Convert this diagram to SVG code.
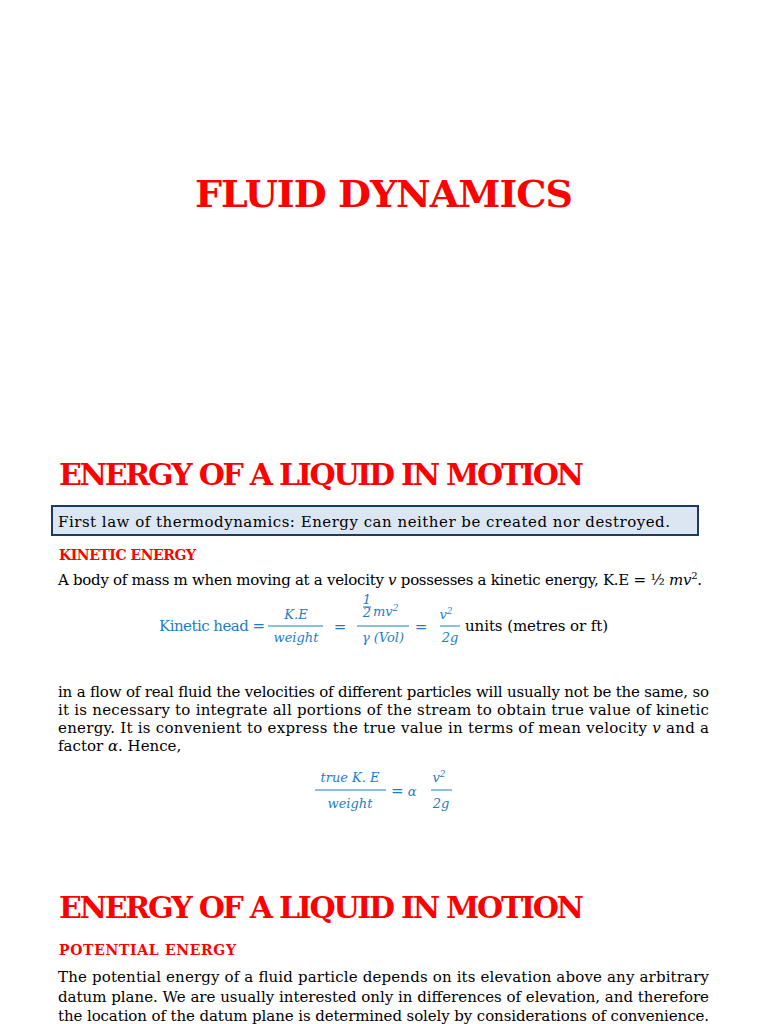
<svg xmlns="http://www.w3.org/2000/svg" width="768" height="1024" viewBox="0 0 768 1024">
<style>
.h{font-family:"DejaVu Serif",serif;font-weight:bold;fill:#FF0000;}
.b{font-family:"DejaVu Serif",serif;font-size:15px;fill:#000;}
.m{font-family:"DejaVu Serif",serif;font-style:italic;fill:#1F7BC8;font-size:13px;}
.mb{font-family:"DejaVu Serif",serif;fill:#1F7BC8;font-size:15px;}
.ln{stroke:#1F7BC8;stroke-width:1;}
</style>
<rect width="768" height="1024" fill="#fff"/>
<text class="h" x="384" y="207" font-size="38" text-anchor="middle" textLength="378">FLUID DYNAMICS</text>
<text class="h" x="59" y="485" font-size="30" textLength="525">ENERGY OF A LIQUID IN MOTION</text>
<g id="box">
<rect x="52" y="506" width="646" height="29" fill="#DCE6F2" stroke="#1F3864" stroke-width="2"/>
<text class="b" x="58" y="527" textLength="612">First law of thermodynamics: Energy can neither be created nor destroyed.</text>
</g>
<text class="h" x="59" y="560" font-size="14" textLength="137">KINETIC ENERGY</text>
<text class="b" x="58" y="585" textLength="644">A body of mass m when moving at a velocity <tspan font-style="italic">v</tspan> possesses a kinetic energy, K.E = ½ <tspan font-style="italic">mv</tspan><tspan font-size="10" dy="-6">2</tspan><tspan dy="6">.</tspan></text>
<g id="eq1">
<text class="mb" x="159" y="631" textLength="106">Kinetic head =</text>
<text class="m" x="296" y="619" text-anchor="middle">K.E</text>
<line class="ln" x1="268" y1="626" x2="323" y2="626"/>
<text class="m" x="296" y="642" text-anchor="middle">weight</text>
<text class="mb" x="340" y="632" text-anchor="middle" font-size="20">=</text>
<text class="m" x="367" y="604" font-size="8" text-anchor="middle">1</text>
<line class="ln" x1="363" y1="607" x2="371" y2="607"/>
<text class="m" x="367" y="617" font-size="8" text-anchor="middle">2</text>
<text class="m" x="373" y="616">mv<tspan font-size="9" dy="-5">2</tspan></text>
<line class="ln" x1="357" y1="626" x2="409" y2="626"/>
<text class="m" x="383" y="642" text-anchor="middle">γ (Vol)</text>
<text class="mb" x="421" y="632" text-anchor="middle" font-size="20">=</text>
<text class="m" x="446" y="619" text-anchor="middle">v<tspan font-size="9" dy="-5">2</tspan></text>
<line class="ln" x1="440" y1="626" x2="460" y2="626"/>
<text class="m" x="450" y="642" text-anchor="middle">2g</text>
<text class="b" x="465" y="631" textLength="143">units (metres or ft)</text>
</g>
<g class="b">
<text x="58" y="697" textLength="651">in a flow of real fluid the velocities of different particles will usually not be the same, so</text>
<text x="58" y="715" textLength="651">it is necessary to integrate all portions of the stream to obtain true value of kinetic</text>
<text x="58" y="733" textLength="651">energy. It is convenient to express the true value in terms of mean velocity <tspan font-style="italic">v</tspan> and a</text>
<text x="58" y="751">factor <tspan font-style="italic">α</tspan>. Hence,</text>
</g>
<g id="eq2">
<text class="m" x="350" y="782" text-anchor="middle">true K. E</text>
<line class="ln" x1="315" y1="790" x2="386" y2="790"/>
<text class="m" x="350" y="808" text-anchor="middle">weight</text>
<text class="m" x="391" y="796"><tspan font-style="normal" font-size="15">=</tspan> α</text>
<text class="m" x="439" y="782" text-anchor="middle">v<tspan font-size="9" dy="-5">2</tspan></text>
<line class="ln" x1="431" y1="790" x2="452" y2="790"/>
<text class="m" x="441" y="808" text-anchor="middle">2g</text>
</g>
<text class="h" x="59" y="918" font-size="30" textLength="525">ENERGY OF A LIQUID IN MOTION</text>
<text class="h" x="59" y="955" font-size="14" textLength="177">POTENTIAL ENERGY</text>
<g class="b">
<text x="58" y="982" textLength="651">The potential energy of a fluid particle depends on its elevation above any arbitrary</text>
<text x="58" y="1002" textLength="651">datum plane. We are usually interested only in differences of elevation, and therefore</text>
<text x="58" y="1021" textLength="651">the location of the datum plane is determined solely by considerations of convenience.</text>
</g>
</svg>
